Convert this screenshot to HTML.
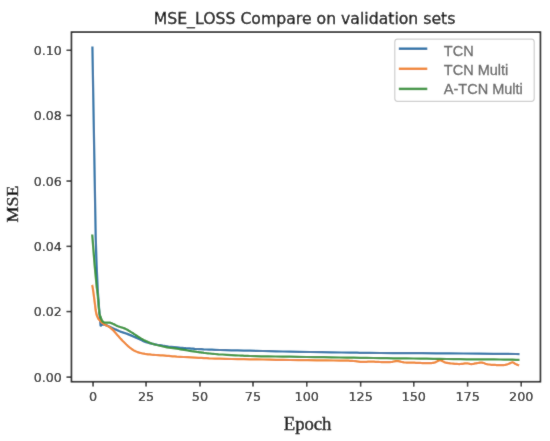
<!DOCTYPE html>
<html><head><meta charset="utf-8"><style>
html,body{margin:0;padding:0;background:#fff;}
body{width:550px;height:441px;overflow:hidden;}
svg{display:block;}
.tk{font-family:"DejaVu Sans","Liberation Sans",sans-serif;font-size:13px;fill:#000;stroke:#000;stroke-width:0.15px;}
.ti{font-family:"DejaVu Sans","Liberation Sans",sans-serif;font-size:15.7px;fill:#000;stroke:#000;stroke-width:0.3px;}
.lb{font-family:"Liberation Serif","DejaVu Serif",serif;font-size:18px;fill:#000;stroke:#000;stroke-width:0.4px;}
.lg{font-family:"Liberation Sans","DejaVu Sans",sans-serif;font-size:14.5px;fill:#666;stroke:#666;stroke-width:0.3px;}
</style></head><body>
<svg width="550" height="441" viewBox="0 0 550 441">
<defs><filter id="bl" x="0" y="0" width="1" height="1"><feConvolveMatrix order="3" kernelMatrix="1 2 1 2 28 2 1 2 1" divisor="40" edgeMode="duplicate"/></filter></defs>
<g filter="url(#bl)">
<rect x="0" y="0" width="550" height="441" fill="#ffffff"/>
<polyline points="92.4,46.6 95.7,237.0 96.6,265.0 97.8,291.0 99.2,310.0 100.6,325.6 100.9,325.6 101.2,325.5 101.5,325.2 101.8,324.9 102.2,324.6 102.5,324.5 102.8,324.5 103.1,324.5 103.5,324.6 103.8,324.6 104.2,324.7 104.5,324.8 104.9,324.9 105.2,325.0 105.6,325.0 106.0,325.1 106.4,325.3 106.8,325.4 107.5,325.7 108.2,326.0 109.0,326.4 109.8,326.8 110.6,327.2 111.4,327.6 112.2,327.9 112.9,328.3 113.6,328.6 114.4,328.9 115.1,329.3 115.9,329.6 116.7,329.9 117.4,330.3 118.2,330.6 119.0,331.0 119.7,331.3 120.5,331.6 121.2,331.9 122.0,332.1 122.7,332.3 123.4,332.6 124.2,332.8 125.0,333.1 126.1,333.5 127.2,333.9 128.4,334.4 129.6,334.9 130.8,335.4 132.0,335.9 133.2,336.4 134.3,336.9 135.5,337.4 136.7,338.0 137.8,338.5 139.0,339.0 140.1,339.5 141.2,340.1 142.3,340.6 143.5,341.1 144.7,341.6 146.0,342.1 148.0,342.7 150.2,343.3 152.6,343.8 155.0,344.3 157.5,344.8 160.0,345.2 162.7,345.7 165.6,346.1 168.5,346.5 171.4,346.8 174.2,347.1 176.8,347.4 178.8,347.6 180.6,347.8 182.4,347.9 184.2,348.0 185.9,348.2 187.7,348.3 189.5,348.4 191.3,348.6 193.0,348.7 194.8,348.9 196.7,349.0 198.6,349.1 201.1,349.2 203.6,349.4 206.2,349.5 209.0,349.6 211.9,349.7 215.0,349.8 220.0,350.0 225.6,350.1 231.5,350.3 237.7,350.4 243.9,350.6 250.0,350.7 256.4,350.9 262.8,351.0 269.3,351.2 276.0,351.3 282.8,351.5 290.0,351.6 299.7,351.8 310.3,352.0 321.3,352.1 331.9,352.3 341.7,352.5 350.0,352.6 353.8,352.7 357.0,352.7 359.8,352.8 362.7,352.8 366.0,352.9 370.0,352.9 380.3,353.0 392.9,353.1 407.0,353.1 421.8,353.2 436.4,353.3 450.0,353.4 463.5,353.5 478.7,353.6 493.7,353.8 506.8,353.9 516.0,354.0 519.5,354.0" fill="none" stroke="#2d74a9" stroke-width="2.25" stroke-linejoin="round" stroke-linecap="butt"/>
<polyline points="92.2,284.9 92.3,285.2 92.4,286.0 92.6,287.1 92.8,288.4 93.0,289.8 93.2,291.0 93.4,292.4 93.6,293.8 93.8,295.3 94.0,296.8 94.2,298.4 94.4,300.0 94.7,302.3 95.0,304.7 95.3,307.3 95.6,309.8 96.0,312.1 96.4,314.0 96.6,314.9 96.9,315.7 97.2,316.4 97.5,317.1 97.8,317.7 98.1,318.3 98.4,318.8 98.7,319.3 99.1,319.7 99.5,320.1 99.9,320.6 100.3,321.0 100.9,321.6 101.6,322.2 102.3,322.8 103.0,323.4 103.8,324.0 104.5,324.5 105.2,324.9 106.0,325.3 106.8,325.7 107.6,326.1 108.4,326.5 109.1,326.9 109.7,327.3 110.4,327.8 111.0,328.3 111.6,328.8 112.1,329.3 112.7,329.8 113.3,330.4 113.8,330.9 114.3,331.5 114.8,332.2 115.4,332.8 115.9,333.4 116.5,334.1 117.1,334.7 117.7,335.4 118.3,336.1 118.9,336.8 119.5,337.5 120.2,338.3 121.0,339.1 121.8,339.9 122.5,340.7 123.3,341.5 124.1,342.3 124.8,343.0 125.6,343.8 126.3,344.5 127.1,345.2 127.8,345.9 128.6,346.6 129.3,347.2 130.1,347.8 130.9,348.4 131.6,349.0 132.4,349.5 133.2,350.0 133.9,350.4 134.7,350.8 135.4,351.2 136.2,351.5 136.9,351.8 137.7,352.1 138.4,352.4 139.2,352.6 139.9,352.8 140.6,353.0 141.4,353.2 142.3,353.4 143.6,353.6 145.0,353.9 146.5,354.1 148.1,354.3 149.7,354.4 151.4,354.6 153.5,354.8 155.8,355.0 158.1,355.1 160.4,355.3 162.8,355.4 165.0,355.6 167.0,355.8 168.9,355.9 170.7,356.1 172.6,356.3 174.6,356.4 176.8,356.6 180.1,356.8 183.7,357.0 187.5,357.2 191.3,357.4 195.1,357.6 198.6,357.8 201.4,357.9 204.0,358.1 206.6,358.2 209.2,358.4 211.9,358.5 215.0,358.6 220.0,358.7 225.6,358.9 231.5,359.0 237.7,359.1 243.9,359.2 250.0,359.3 256.5,359.4 263.0,359.5 269.6,359.7 276.2,359.8 283.0,359.9 290.0,360.0 298.4,360.1 307.5,360.2 316.8,360.3 325.7,360.4 333.6,360.5 340.0,360.6 342.5,360.6 344.7,360.7 346.6,360.7 348.4,360.7 350.2,360.8 352.0,360.9 353.7,361.0 355.4,361.2 357.1,361.4 358.7,361.6 360.4,361.8 362.0,361.9 363.5,361.9 365.0,361.9 366.5,361.8 368.0,361.7 369.5,361.6 371.0,361.6 372.5,361.6 374.0,361.7 375.5,361.8 377.0,361.9 378.5,361.9 380.0,362.0 381.7,362.1 383.4,362.1 385.1,362.2 386.8,362.2 388.4,362.2 390.0,362.1 391.2,362.0 392.4,361.8 393.6,361.5 394.7,361.3 395.8,361.1 397.0,361.1 398.2,361.2 399.3,361.4 400.5,361.7 401.6,362.0 402.8,362.2 404.0,362.4 405.3,362.5 406.6,362.6 408.0,362.6 409.3,362.6 410.7,362.6 412.0,362.6 413.3,362.6 414.6,362.7 415.9,362.8 417.3,362.8 418.6,362.9 420.0,362.9 421.6,363.0 423.4,363.0 425.1,363.1 426.9,363.1 428.5,363.1 430.0,363.1 430.9,363.0 431.8,363.0 432.6,362.9 433.4,362.8 434.2,362.6 435.0,362.4 435.8,362.1 436.7,361.6 437.5,361.2 438.3,360.7 439.2,360.4 440.0,360.3 440.8,360.4 441.7,360.7 442.5,361.2 443.3,361.6 444.2,362.1 445.0,362.4 445.8,362.6 446.6,362.8 447.4,362.9 448.2,363.1 449.1,363.2 450.0,363.3 451.5,363.5 453.1,363.6 454.9,363.8 456.7,363.9 458.4,364.0 460.0,364.0 461.3,363.9 462.5,363.8 463.7,363.6 464.9,363.4 466.0,363.3 467.0,363.3 467.7,363.4 468.4,363.5 469.0,363.7 469.7,363.9 470.3,364.0 471.0,364.1 471.8,364.1 472.6,364.0 473.4,363.8 474.3,363.6 475.1,363.4 476.0,363.3 477.0,363.1 478.0,363.0 479.0,362.8 480.0,362.6 481.0,362.6 482.0,362.6 482.9,362.8 483.7,363.0 484.5,363.3 485.3,363.7 486.1,364.0 487.0,364.2 488.1,364.4 489.3,364.5 490.5,364.7 491.7,364.8 492.8,364.8 494.0,364.9 495.0,364.9 496.1,365.0 497.1,365.0 498.1,365.0 499.0,365.0 500.0,365.0 500.9,365.0 501.7,365.0 502.6,365.0 503.4,365.0 504.2,365.0 505.0,364.9 505.6,364.8 506.1,364.7 506.6,364.5 507.1,364.4 507.6,364.2 508.2,364.0 508.9,363.7 509.7,363.4 510.4,363.0 511.2,362.7 511.9,362.5 512.6,362.4 513.1,362.5 513.6,362.7 514.1,363.0 514.5,363.4 515.0,363.7 515.5,364.0 516.2,364.3 516.9,364.6 517.7,365.0 518.4,365.2 518.9,365.4 519.1,365.5" fill="none" stroke="#f08630" stroke-width="2.25" stroke-linejoin="round" stroke-linecap="butt"/>
<polyline points="92.2,234.5 94.6,265.0 96.7,287.0 97.3,291.0 97.4,292.3 97.6,293.7 97.7,295.2 97.9,296.7 98.0,298.3 98.2,300.0 98.4,302.3 98.6,304.8 98.8,307.5 99.1,310.0 99.3,312.2 99.6,314.0 99.8,314.6 99.9,315.2 100.1,315.7 100.3,316.1 100.4,316.5 100.6,317.0 100.7,317.4 100.9,317.9 101.0,318.3 101.2,318.7 101.3,319.1 101.5,319.5 101.6,319.8 101.8,320.2 101.9,320.5 102.1,320.8 102.3,321.0 102.5,321.3 102.8,321.6 103.1,321.8 103.4,322.0 103.8,322.2 104.1,322.4 104.5,322.5 104.9,322.6 105.2,322.6 105.6,322.6 106.0,322.6 106.4,322.6 106.8,322.6 107.2,322.6 107.5,322.5 107.9,322.5 108.3,322.5 108.7,322.5 109.1,322.5 109.8,322.6 110.5,322.9 111.3,323.1 112.1,323.4 112.8,323.8 113.6,324.1 114.3,324.4 115.0,324.8 115.7,325.2 116.5,325.6 117.2,325.9 118.0,326.3 119.1,326.7 120.2,327.0 121.4,327.4 122.6,327.7 123.8,328.1 125.0,328.6 126.2,329.2 127.4,329.8 128.5,330.5 129.7,331.2 130.8,331.9 132.0,332.6 133.2,333.3 134.3,334.1 135.5,334.9 136.7,335.7 137.8,336.5 139.0,337.2 140.2,337.9 141.3,338.6 142.5,339.3 143.6,339.9 144.8,340.5 146.0,341.1 147.1,341.6 148.2,342.1 149.4,342.6 150.5,343.0 151.7,343.5 153.0,343.9 154.8,344.5 156.7,345.0 158.8,345.5 160.9,346.0 163.0,346.5 165.0,346.9 167.0,347.3 169.0,347.6 170.9,347.9 172.9,348.1 174.9,348.4 176.8,348.7 178.6,349.0 180.5,349.3 182.3,349.6 184.1,349.9 185.9,350.2 187.7,350.5 189.5,350.8 191.4,351.1 193.3,351.3 195.2,351.6 196.9,351.9 198.6,352.1 199.7,352.3 200.8,352.4 201.8,352.6 202.8,352.7 203.9,352.9 205.0,353.0 206.5,353.2 208.0,353.3 209.6,353.5 211.3,353.7 213.1,353.8 215.0,354.0 218.5,354.3 222.6,354.5 226.9,354.8 231.3,355.1 235.4,355.3 239.0,355.5 241.0,355.6 242.7,355.7 244.3,355.8 246.0,355.9 247.8,355.9 250.0,356.0 255.2,356.1 261.3,356.3 268.2,356.4 275.4,356.5 282.8,356.6 290.0,356.7 298.1,356.8 306.5,357.0 315.0,357.1 323.5,357.2 331.9,357.4 340.0,357.5 346.9,357.6 353.7,357.7 360.3,357.8 366.8,357.9 373.4,358.0 380.0,358.1 386.7,358.2 393.3,358.3 400.0,358.4 406.7,358.4 413.3,358.5 420.0,358.6 426.7,358.7 433.3,358.8 440.0,358.9 446.7,359.0 453.3,359.1 460.0,359.2 466.8,359.3 473.9,359.3 480.9,359.3 487.7,359.4 494.2,359.4 500.0,359.5 504.1,359.6 508.5,359.7 512.6,359.7 516.1,359.8 518.6,359.9 519.5,359.9" fill="none" stroke="#3a953d" stroke-width="2.25" stroke-linejoin="round" stroke-linecap="butt"/>
<rect x="71.45" y="32.1" width="469.0" height="349.6" fill="none" stroke="#000" stroke-width="1.6"/>
<line x1="93.07" y1="381.7" x2="93.07" y2="386.6" stroke="#1c1c1c" stroke-width="1.5"/>
<text transform="translate(93.07,401.4) scale(0.985,1)" text-anchor="middle" class="tk">0</text>
<line x1="146.07" y1="381.7" x2="146.07" y2="386.6" stroke="#1c1c1c" stroke-width="1.5"/>
<text transform="translate(146.07,401.4) scale(0.985,1)" text-anchor="middle" class="tk">25</text>
<line x1="200.00" y1="381.7" x2="200.00" y2="386.6" stroke="#1c1c1c" stroke-width="1.5"/>
<text transform="translate(200.00,401.4) scale(0.985,1)" text-anchor="middle" class="tk">50</text>
<line x1="253.00" y1="381.7" x2="253.00" y2="386.6" stroke="#1c1c1c" stroke-width="1.5"/>
<text transform="translate(253.00,401.4) scale(0.985,1)" text-anchor="middle" class="tk">75</text>
<line x1="306.74" y1="381.7" x2="306.74" y2="386.6" stroke="#1c1c1c" stroke-width="1.5"/>
<text transform="translate(306.74,401.4) scale(0.985,1)" text-anchor="middle" class="tk">100</text>
<line x1="360.63" y1="381.7" x2="360.63" y2="386.6" stroke="#1c1c1c" stroke-width="1.5"/>
<text transform="translate(360.63,401.4) scale(0.985,1)" text-anchor="middle" class="tk">125</text>
<line x1="413.74" y1="381.7" x2="413.74" y2="386.6" stroke="#1c1c1c" stroke-width="1.5"/>
<text transform="translate(413.74,401.4) scale(0.985,1)" text-anchor="middle" class="tk">150</text>
<line x1="467.58" y1="381.7" x2="467.58" y2="386.6" stroke="#1c1c1c" stroke-width="1.5"/>
<text transform="translate(467.58,401.4) scale(0.985,1)" text-anchor="middle" class="tk">175</text>
<line x1="521.25" y1="381.7" x2="521.25" y2="386.6" stroke="#1c1c1c" stroke-width="1.5"/>
<text transform="translate(521.25,401.4) scale(0.985,1)" text-anchor="middle" class="tk">200</text>
<line x1="66.5" y1="377.14" x2="71.45" y2="377.14" stroke="#1c1c1c" stroke-width="1.5"/>
<text transform="translate(61.8,381.84) scale(0.97,1)" text-anchor="end" class="tk">0.00</text>
<line x1="66.5" y1="311.56" x2="71.45" y2="311.56" stroke="#1c1c1c" stroke-width="1.5"/>
<text transform="translate(61.8,316.26) scale(0.97,1)" text-anchor="end" class="tk">0.02</text>
<line x1="66.5" y1="246.37" x2="71.45" y2="246.37" stroke="#1c1c1c" stroke-width="1.5"/>
<text transform="translate(61.8,251.07) scale(0.97,1)" text-anchor="end" class="tk">0.04</text>
<line x1="66.5" y1="181.05" x2="71.45" y2="181.05" stroke="#1c1c1c" stroke-width="1.5"/>
<text transform="translate(61.8,185.75) scale(0.97,1)" text-anchor="end" class="tk">0.06</text>
<line x1="66.5" y1="115.46" x2="71.45" y2="115.46" stroke="#1c1c1c" stroke-width="1.5"/>
<text transform="translate(61.8,120.16) scale(0.97,1)" text-anchor="end" class="tk">0.08</text>
<line x1="66.5" y1="50.30" x2="71.45" y2="50.30" stroke="#1c1c1c" stroke-width="1.5"/>
<text transform="translate(61.8,55.00) scale(0.97,1)" text-anchor="end" class="tk">0.10</text>
<text x="304.6" y="24" text-anchor="middle" class="ti">MSE_LOSS Compare on validation sets</text>
<text x="307.6" y="429.8" text-anchor="middle" class="lb" style="font-size:18.7px">Epoch</text>
<text transform="translate(18.4,204) rotate(-90) scale(1,0.9)" x="0" y="0" text-anchor="middle" class="lb">MSE</text>
<rect x="394.8" y="39.2" width="139.4" height="62.2" rx="2.8" ry="2.8" fill="#fff" fill-opacity="0.8" stroke="#cfcfcf" stroke-width="1.2"/>
<line x1="398.8" y1="48.7" x2="427.3" y2="48.7" stroke="#2d74a9" stroke-width="2.5"/>
<text x="443.8" y="56.3" class="lg">TCN</text>
<line x1="398.8" y1="68.8" x2="427.3" y2="68.8" stroke="#f08630" stroke-width="2.5"/>
<text x="443.8" y="75.3" class="lg">TCN Multi</text>
<line x1="398.8" y1="88.9" x2="427.3" y2="88.9" stroke="#3a953d" stroke-width="2.5"/>
<text x="443.8" y="94.3" class="lg">A-TCN Multi</text>
</g>
</svg>
</body></html>
